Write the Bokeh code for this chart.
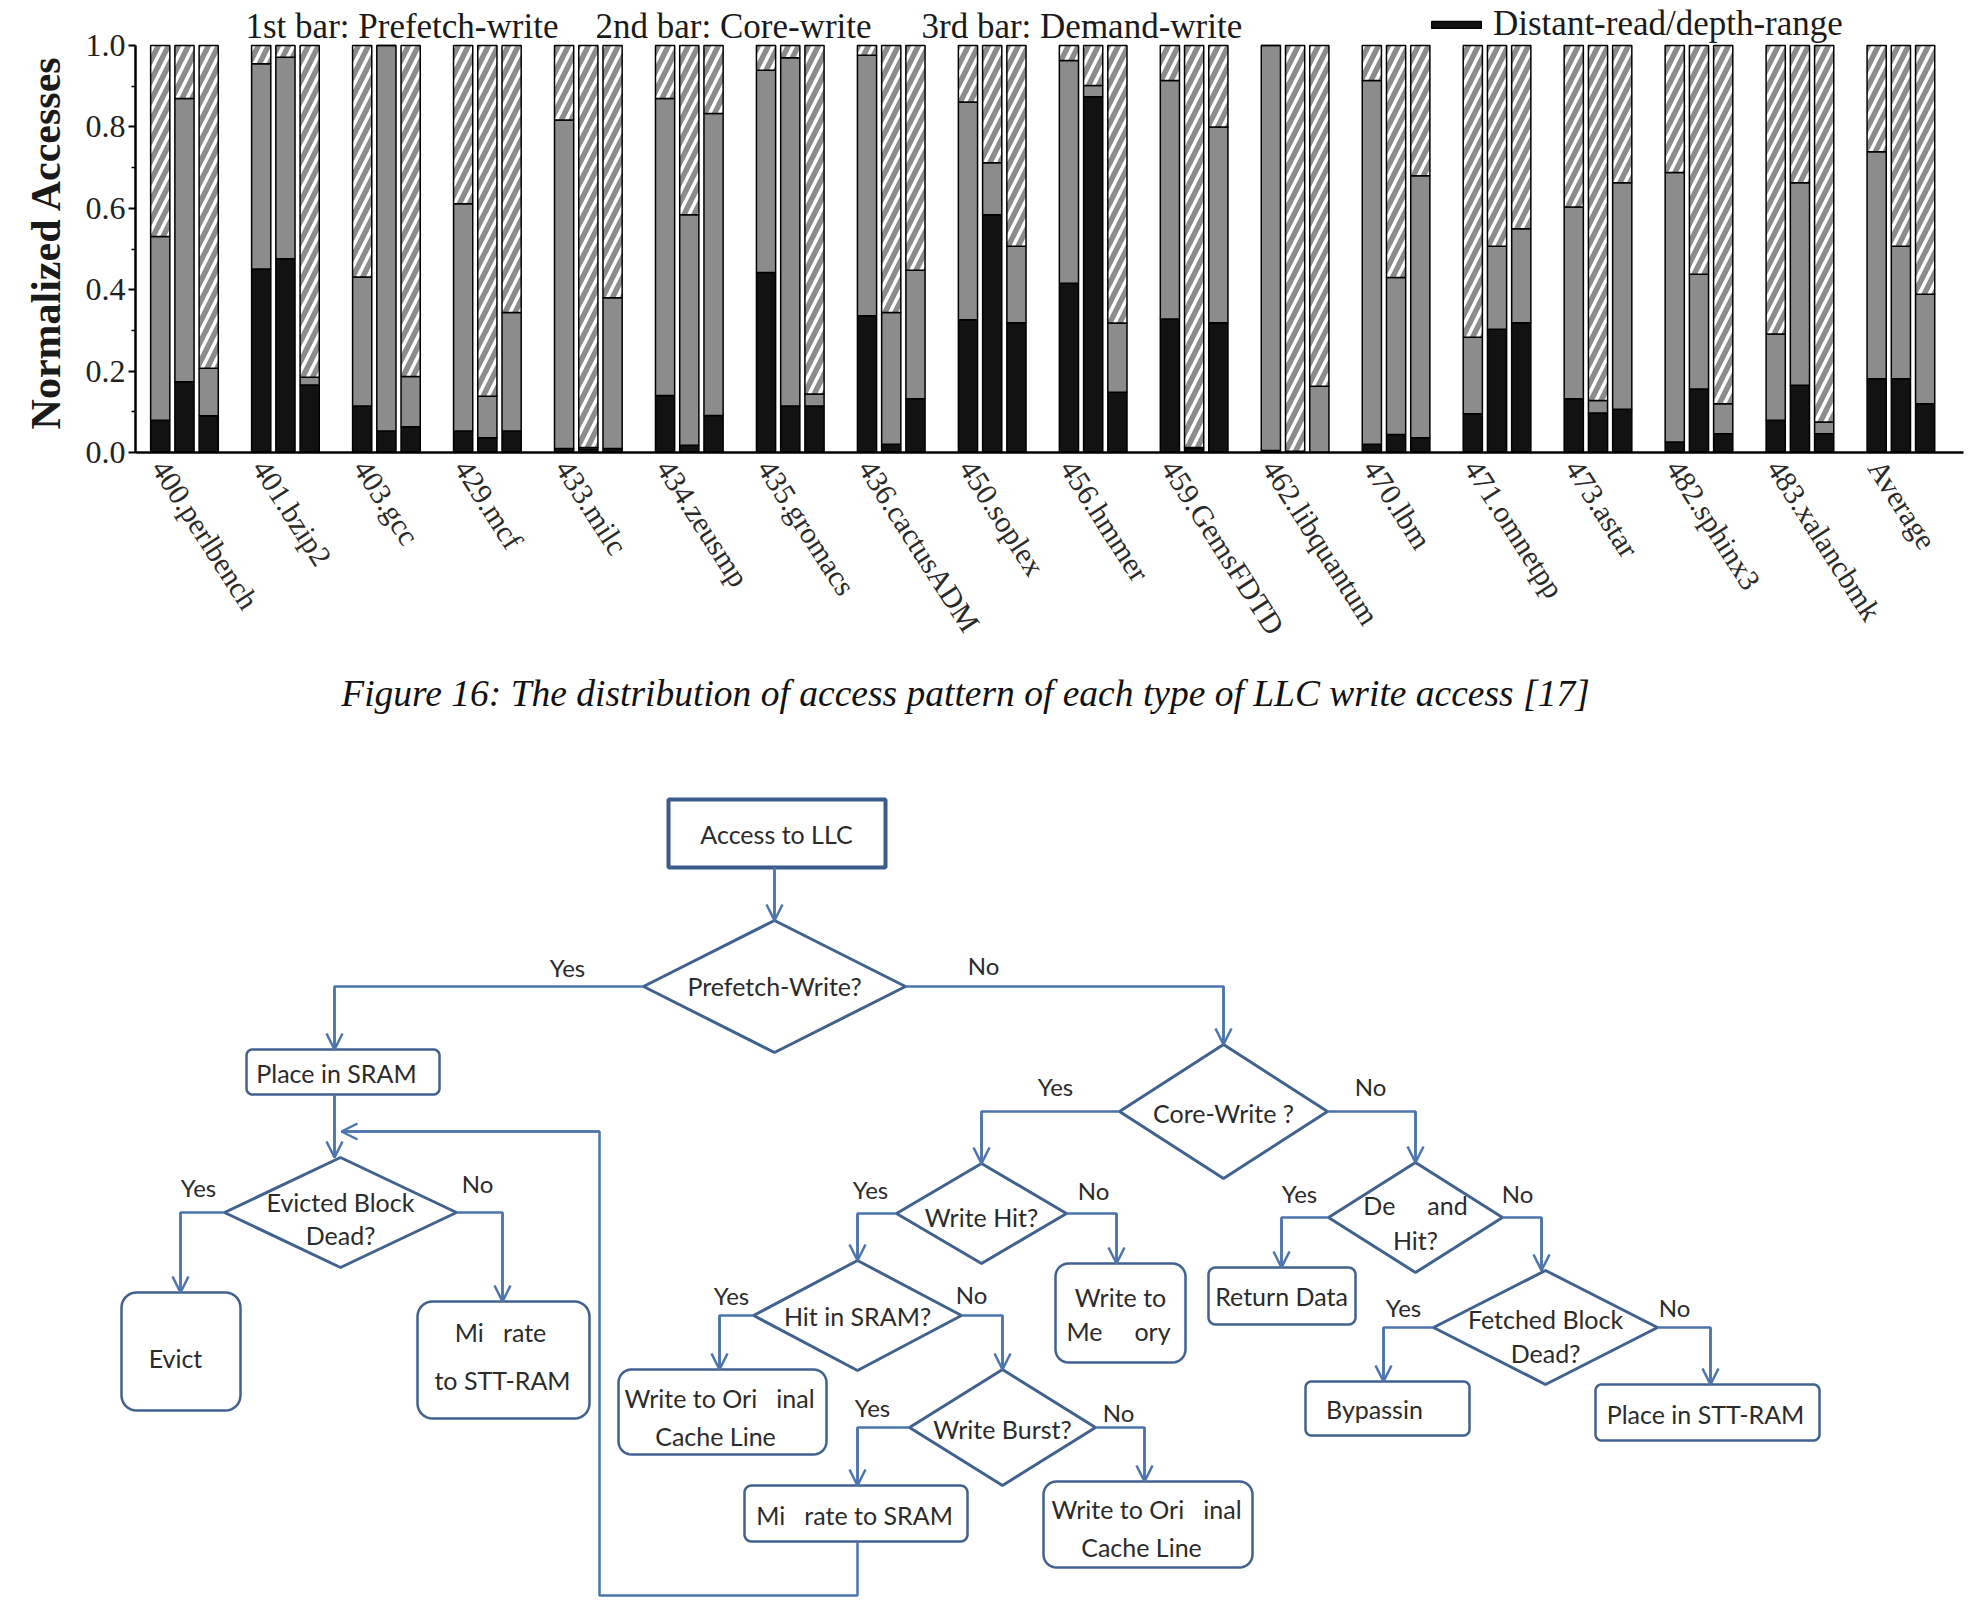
import math
from bokeh.plotting import figure
from bokeh.layouts import column
from bokeh.models import (Range1d, FixedTicker, PrintfTickFormatter, Legend,
                          LegendItem, Arrow, OpenHead, ColumnDataSource)
from bokeh.core.properties import value
from bokeh.embed import file_html
from bokeh.resources import INLINE

# ---------------- data ----------------
benchmarks = ["400.perlbench", "401.bzip2", "403.gcc", "429.mcf", "433.milc", "434.zeusmp",
              "435.gromacs", "436.cactusADM", "450.soplex", "456.hmmer", "459.GemsFDTD",
              "462.libquantum", "470.lbm", "471.omnetpp", "473.astar", "482.sphinx3",
              "483.xalancbmk", "Average"]

# bottom (black) segment: Distant-read/depth-range
prefetch_distant = [0.079, 0.451, 0.114, 0.053, 0.010, 0.140, 0.442, 0.336, 0.326, 0.416,
                    0.328, 0.005, 0.020, 0.095, 0.132, 0.026, 0.079, 0.181]
core_distant = [0.174, 0.476, 0.053, 0.036, 0.008, 0.018, 0.114, 0.020, 0.584, 0.874,
                0.010, 0.000, 0.044, 0.303, 0.097, 0.156, 0.165, 0.181]
demand_distant = [0.090, 0.166, 0.063, 0.053, 0.010, 0.091, 0.114, 0.132, 0.319, 0.148,
                  0.319, 0.000, 0.036, 0.319, 0.106, 0.046, 0.046, 0.120]

# middle (solid grey) segment
prefetch_mid = [0.452, 0.504, 0.317, 0.558, 0.807, 0.730, 0.497, 0.640, 0.535, 0.547,
                0.586, 0.995, 0.894, 0.188, 0.471, 0.662, 0.212, 0.558]
core_mid = [0.696, 0.495, 0.947, 0.102, 0.004, 0.566, 0.856, 0.324, 0.128, 0.028,
            0.002, 0.003, 0.386, 0.204, 0.031, 0.282, 0.498, 0.326]
demand_mid = [0.117, 0.019, 0.124, 0.291, 0.370, 0.742, 0.030, 0.316, 0.188, 0.170,
              0.481, 0.163, 0.644, 0.231, 0.557, 0.074, 0.029, 0.269]
# top (hatched) segment = remainder up to 1.0

y_ticks = [0.0, 0.2, 0.4, 0.6, 0.8, 1.0]
y_minor_ticks = [0.1, 0.3, 0.5, 0.7, 0.9]

bar_order_texts = ["1st bar: Prefetch-write", "2nd bar: Core-write", "3rd bar: Demand-write"]
legend_label = "Distant-read/depth-range"
caption = "Figure 16: The distribution of access pattern of each type of LLC write access [17]"

# ---------------- layout constants (page pixels) ----------------
SERIF = "Liberation Serif"
FLOW_FONT = "Lato"
NB = "\u00a0"
FIG_W = 1977
FIG1_H = 660
AXIS_X = 135          # page x of the y axis
RIGHT_X = 1963        # page x where the x axis ends
ZERO_Y = 452          # page y of value 0
ONE_Y = 45            # page y of value 1
B_L, B_R, B_T = AXIS_X, FIG_W - RIGHT_X, 0
B_B = FIG1_H - ZERO_Y
FRAME_W = RIGHT_X - AXIS_X
X0, X1 = -0.485, 17.62
PX_PER_UNIT = ZERO_Y - ONE_Y
Y0, Y1 = 0.0, ZERO_Y / PX_PER_UNIT
OFFSETS = [-0.24, 0.0, 0.24]
BAR_W = 0.19
LABEL_SHIFT = -0.25


def data_x(page_px):
    return X0 + (page_px - AXIS_X) / FRAME_W * (X1 - X0)


def data_y(page_py):
    return (ZERO_Y - page_py) / PX_PER_UNIT


# ---------------- bar chart ----------------
xs, blk_top, gry_top = [], [], []
for k, (blk, mid) in enumerate([(prefetch_distant, prefetch_mid),
                                 (core_distant, core_mid),
                                 (demand_distant, demand_mid)]):
    for i in range(len(benchmarks)):
        xs.append(i + OFFSETS[k])
        blk_top.append(blk[i])
        gry_top.append(blk[i] + mid[i])
src = ColumnDataSource(dict(x=xs, black_top=blk_top, gray_top=gry_top,
                            one=[1.0] * len(xs)))

p = figure(width=FIG_W, height=FIG1_H, x_range=Range1d(X0, X1), y_range=Range1d(Y0, Y1),
           output_backend="svg", toolbar_location=None, title=None,
           min_border_left=B_L, min_border_right=B_R, min_border_top=B_T,
           min_border_bottom=B_B)
p.frame_align = False
p.outline_line_color = None
p.grid.visible = False
p.background_fill_color = "white"

r_black = p.vbar(x="x", bottom=0, top="black_top", width=BAR_W, source=src,
                 fill_color="#121212", line_color="black", line_width=1.5)
p.vbar(x="x", bottom="black_top", top="gray_top", width=BAR_W, source=src,
       fill_color="#8c8c8c", line_color="black", line_width=1.5)
p.vbar(x="x", bottom="gray_top", top="one", width=BAR_W, source=src,
       fill_color="#8c8c8c", hatch_pattern="/", hatch_color="white", hatch_weight=3.5,
       hatch_scale=20, line_color="black", line_width=1.5)

# y axis
p.yaxis.bounds = (0, 1.0)
p.yaxis.ticker = FixedTicker(ticks=y_ticks, minor_ticks=y_minor_ticks)
p.yaxis.formatter = PrintfTickFormatter(format="%.1f")
p.yaxis.axis_label = "Normalized Accesses" + NB * 3
p.yaxis.axis_label_text_font = SERIF
p.yaxis.axis_label_text_font_style = "bold"
p.yaxis.axis_label_text_font_size = "42px"
p.yaxis.axis_label_text_color = "#1a1a1a"
p.yaxis.axis_label_standoff = 14
p.yaxis.major_label_text_font = SERIF
p.yaxis.major_label_text_font_size = "32px"
p.yaxis.major_label_text_color = "#222222"
p.yaxis.major_label_standoff = 3
p.yaxis.major_tick_out = 7
p.yaxis.major_tick_in = 0
p.yaxis.minor_tick_out = 4
p.yaxis.minor_tick_in = 0
p.yaxis.axis_line_width = 2.5
p.yaxis.major_tick_line_width = 2
p.yaxis.minor_tick_line_width = 1.5

# x axis
tick_pos = [i + LABEL_SHIFT for i in range(len(benchmarks))]
p.xaxis.ticker = FixedTicker(ticks=tick_pos, minor_ticks=[])
p.xaxis.major_label_overrides = {t: name for t, name in zip(tick_pos, benchmarks)}
p.xaxis.major_label_orientation = -1.0
p.xaxis.major_label_text_font = SERIF
p.xaxis.major_label_text_font_size = "30px"
p.xaxis.major_label_text_color = "#2a2a2a"
p.xaxis.major_label_standoff = 10
p.xaxis.major_tick_line_color = None
p.xaxis.minor_tick_line_color = None
p.xaxis.major_tick_out = 0
p.xaxis.major_tick_in = 0
p.xaxis.axis_line_width = 2.5

# legend texts above the bars (inside the frame, above the y-axis bounds)
p.text(x=[data_x(245), data_x(595), data_x(921)], y=[data_y(26)] * 3, text=bar_order_texts,
       text_align="left", text_baseline="alphabetic", text_font=value(SERIF),
       text_font_size="35px", text_color="#1a1a1a")
legend = Legend(items=[LegendItem(label=legend_label, renderers=[r_black])],
                location=(1425 - AXIS_X, ZERO_Y - 44), orientation="horizontal",
                glyph_width=62, glyph_height=9, label_text_font=SERIF,
                label_text_font_size="35px", label_text_color="#1a1a1a", padding=0,
                margin=0, label_standoff=6, border_line_color=None,
                background_fill_alpha=0)
p.add_layout(legend)

# ---------------- flowchart (page pixel coordinates) ----------------
FIG2_TOP = FIG1_H
FIG2_H = 1610 - FIG2_TOP
q = figure(width=FIG_W, height=FIG2_H, x_range=Range1d(0, FIG_W),
           y_range=Range1d(FIG2_TOP + FIG2_H, FIG2_TOP), output_backend="svg",
           toolbar_location=None, x_axis_location=None, y_axis_location=None,
           min_border=0, title=None)
q.frame_align = False
q.outline_line_color = None
q.grid.visible = False

SHAPE = "#41618e"
CONN = "#4c74ae"
TXT = "#2b2b2b"

q.text(x=[965], y=[693], text=[caption], text_align="center", text_baseline="middle",
       text_font=value(SERIF), text_font_style="italic", text_font_size="37.5px",
       text_color="#111111")


def rounded(l, t, r, b, rad, n=8):
    if rad <= 0:
        return [l, r, r, l], [t, t, b, b]
    xs_, ys_ = [], []
    for cx, cy, a0 in [(r - rad, t + rad, -90), (r - rad, b - rad, 0),
                       (l + rad, b - rad, 90), (l + rad, t + rad, 180)]:
        for j in range(n + 1):
            a = math.radians(a0 + 90 * j / n)
            xs_.append(cx + rad * math.cos(a))
            ys_.append(cy + rad * math.sin(a))
    return xs_, ys_


# boxes: (left, top, right, bottom, radius, [(text, x, y), ...])
boxes = [
    (246, 1049, 439, 1094, 6, [("Place in SRAM", 336, 1072)]),
    (121, 1292, 240, 1410, 15, [("Evict", 175, 1357)]),
    (417, 1301, 589, 1418, 15, [("Mi" + NB * 3 + "rate", 500, 1331), ("to STT-RAM", 502, 1379)]),
    (1055, 1263, 1185, 1362, 13, [("Write to", 1120, 1296), ("Me" + NB * 5 + "ory", 1118, 1330)]),
    (618, 1369, 826, 1454, 13, [("Write to Ori" + NB * 3 + "inal", 719, 1397),
                                ("Cache Line", 715, 1435)]),
    (744, 1485, 967, 1541, 7, [("Mi" + NB * 3 + "rate to SRAM", 854, 1514)]),
    (1043, 1481, 1252, 1567, 13, [("Write to Ori" + NB * 3 + "inal", 1146, 1508),
                                  ("Cache Line", 1141, 1546)]),
    (1208, 1267, 1355, 1324, 7, [("Return Data", 1281, 1295)]),
    (1305, 1381, 1469, 1435, 6, [("Bypassin", 1374, 1408)]),
    (1595, 1384, 1819, 1440, 6, [("Place in STT-RAM", 1705, 1413)]),
]
bx, by = [], []
for l, t, r, b, rad, _ in boxes:
    a, c = rounded(l, t, r, b, rad)
    bx.append(a)
    by.append(c)
q.patches(bx, by, fill_color="white", line_color=SHAPE, line_width=2.5)
# main entry box (square corners, heavier border)
ax_, ay_ = rounded(668, 799, 885, 867, 0)
q.patches([ax_], [ay_], fill_color="white", line_color="#3b5b8a", line_width=4)

# diamonds: (cx, cy, half-width, half-height, [(text, dy), ...])
diamonds = [
    (774, 986, 131, 66, [("Prefetch-Write?", -1)]),
    (1223, 1111, 104, 67, [("Core-Write ?", 1)]),
    (340, 1212, 116, 55, [("Evicted Block", -11), ("Dead?", 22)]),
    (981, 1213, 85, 50, [("Write Hit?", 3)]),
    (857, 1315, 104, 55, [("Hit in SRAM?", 0)]),
    (1002, 1427, 93, 58, [("Write Burst?", 1)]),
    (1415, 1217, 87, 55, [("De" + NB * 5 + "and", -13), ("Hit?", 22)]),
    (1545, 1327, 112, 57, [("Fetched Block", -9), ("Dead?", 25)]),
]
dx_, dy_ = [], []
for cx, cy, hw, hh, _ in diamonds:
    dx_.append([cx - hw, cx, cx + hw, cx])
    dy_.append([cy, cy - hh, cy, cy + hh])
q.patches(dx_, dy_, fill_color="white", line_color=SHAPE, line_width=3)

# connectors (polylines ending with an arrow head)
connectors = [
    [(774, 867), (774, 920)],
    [(643, 986), (334, 986), (334, 1049)],
    [(905, 986), (1223, 986), (1223, 1044)],
    [(334, 1094), (334, 1157)],
    [(857, 1541), (857, 1595), (599, 1595), (599, 1131), (341, 1131)],
    [(224, 1212), (180, 1212), (180, 1292)],
    [(456, 1212), (502, 1212), (502, 1301)],
    [(1119, 1111), (981, 1111), (981, 1163)],
    [(1327, 1111), (1415, 1111), (1415, 1162)],
    [(896, 1213), (857, 1213), (857, 1260)],
    [(1066, 1213), (1116, 1213), (1116, 1263)],
    [(753, 1315), (719, 1315), (719, 1369)],
    [(961, 1315), (1002, 1315), (1002, 1369)],
    [(909, 1427), (857, 1427), (857, 1485)],
    [(1095, 1427), (1144, 1427), (1144, 1481)],
    [(1328, 1217), (1281, 1217), (1281, 1267)],
    [(1502, 1217), (1541, 1217), (1541, 1270)],
    [(1433, 1327), (1383, 1327), (1383, 1381)],
    [(1657, 1327), (1710, 1327), (1710, 1384)],
]
q.multi_line([[pt[0] for pt in c] for c in connectors],
             [[pt[1] for pt in c] for c in connectors],
             line_color=CONN, line_width=2.5)
for c in connectors:
    (x_a, y_a), (x_b, y_b) = c[-2], c[-1]
    q.add_layout(Arrow(end=OpenHead(size=16, line_color=CONN, line_width=2.5),
                       x_start=x_a, y_start=y_a, x_end=x_b, y_end=y_b,
                       line_color=CONN, line_width=2.5))

# texts inside shapes
tx, ty, tt = [], [], []
for cx_, cy_, hw, hh, lines in diamonds:
    for s, dy in lines:
        tx.append(cx_)
        ty.append(cy_ + dy)
        tt.append(s)
for *_, lines in boxes:
    for s, x_, y_ in lines:
        tx.append(x_)
        ty.append(y_)
        tt.append(s)
tx.append(776)
ty.append(833)
tt.append("Access to LLC")
q.text(x=tx, y=ty, text=tt, text_align="center", text_baseline="middle",
       text_font=value(FLOW_FONT), text_font_size="25px", text_color=TXT)

# Yes / No branch labels
branch_labels = [
    ("Yes", 567, 967), ("No", 983, 965), ("Yes", 1055, 1086), ("No", 1370, 1086),
    ("Yes", 198, 1187), ("No", 477, 1183), ("Yes", 870, 1189), ("No", 1093, 1190),
    ("Yes", 731, 1295), ("No", 971, 1294), ("Yes", 872, 1407), ("No", 1118, 1412),
    ("Yes", 1299, 1193), ("No", 1517, 1193), ("Yes", 1403, 1307), ("No", 1674, 1307),
]
q.text(x=[b[1] for b in branch_labels], y=[b[2] for b in branch_labels],
       text=[b[0] for b in branch_labels], text_align="center", text_baseline="middle",
       text_font=value(FLOW_FONT), text_font_size="24px", text_color=TXT)

layout = column(p, q, spacing=0)
open("out.html", "w").write(file_html(layout, INLINE))
